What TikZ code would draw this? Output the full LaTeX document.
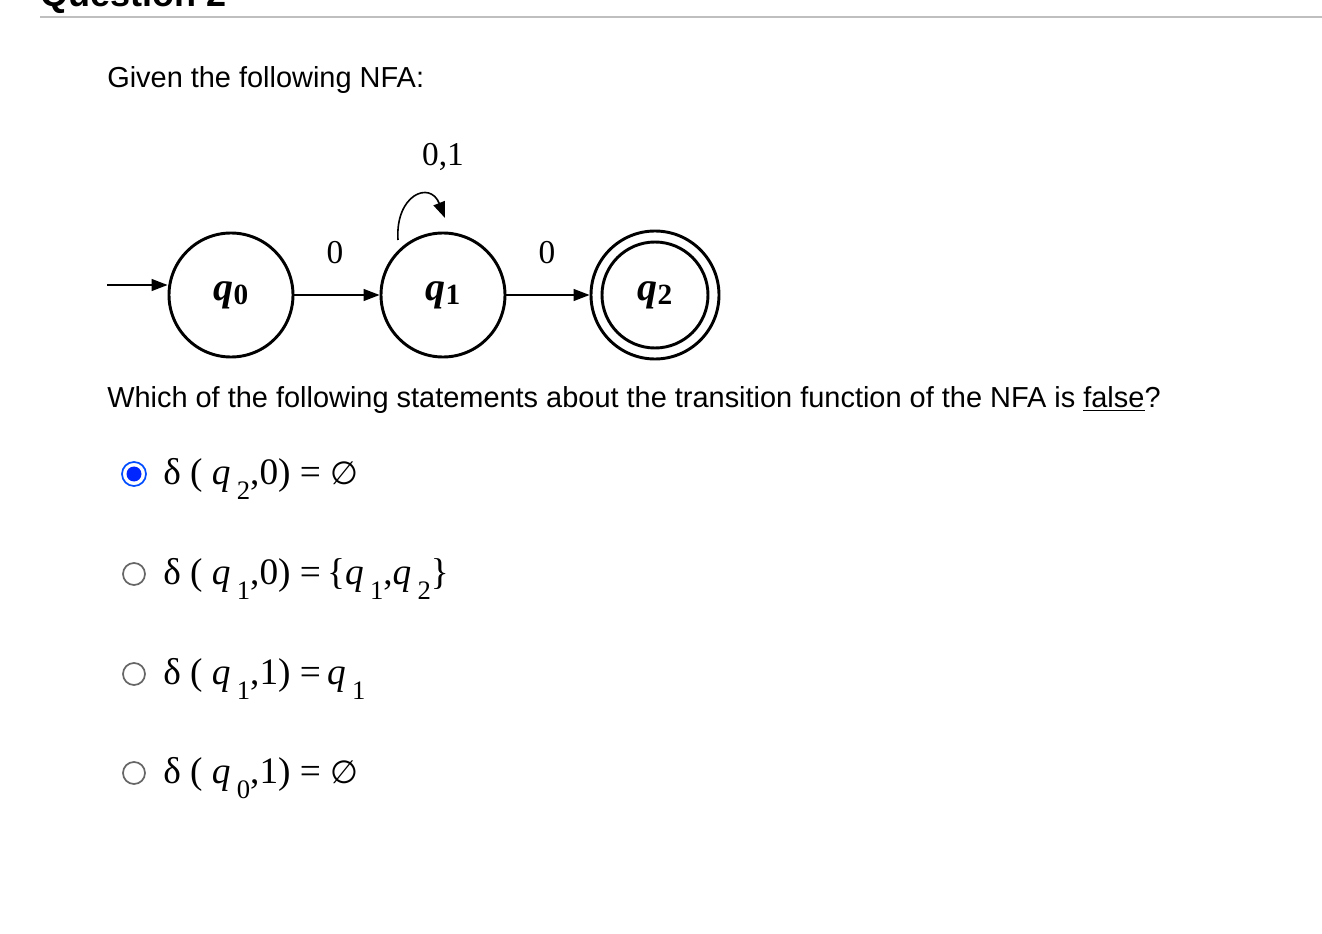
\documentclass[tikz,border=0pt]{standalone}
\usepackage{fontspec}
\setmainfont{Liberation Sans}
\newfontfamily\serf{Liberation Serif}
\newfontfamily\djv{DejaVu Sans}
\usetikzlibrary{arrows.meta}
\newcommand{\mysub}[1]{\raisebox{-0.42em}{\fontsize{20}{20}\selectfont #1}}
\newcommand{\emptyst}{{\djv\fontsize{24}{24}\selectfont ∅}}
\begin{document}
\begin{tikzpicture}[x=0.75pt,y=-0.75pt,
  st/.style={circle,draw,line width=2.2pt,minimum size=124*0.75pt,inner sep=0pt,font=\serf\bfseries\itshape\fontsize{30}{30}\selectfont},
  tr/.style={-{Triangle[length=12pt,width=9pt]},line width=1pt},
  lab/.style={font=\serf\fontsize{25}{25}\selectfont},
  txt/.style={anchor=base west,inner sep=0pt,font=\fontsize{21.7}{22}\selectfont},
  frm/.style={anchor=base west,inner sep=0pt,font=\serf\fontsize{28}{28}\selectfont},
  radio/.style={circle,draw=gray!80!black,line width=1.3pt,minimum size=22*0.75pt,inner sep=0pt}]
\useasboundingbox (0,0) rectangle (1322,934);
\begin{scope}
\clip (0,0) rectangle (1322,934);
\node[anchor=base west,inner sep=0pt,font=\bfseries\fontsize{27}{27}\selectfont] (title) at (40,7) {Question 2};
\end{scope}
\draw[gray!50,line width=1.5pt] (40,17) coordinate (la) -- (1322,17) coordinate (lb);
\node[txt] (given) at (107,88) {Given the following NFA:};
\node[st] (q0) at (231,295) {q\raisebox{-0.12em}{\upshape\fontsize{22}{22}\selectfont 0}};
\node[st] (q1) at (443,295) {q\raisebox{-0.12em}{\upshape\fontsize{22}{22}\selectfont 1}};
\node[st,minimum size=128*0.75pt] (q2) at (655,295) {};
\node[circle,draw,line width=2.2pt,minimum size=106*0.75pt,inner sep=0pt,font=\serf\bfseries\itshape\fontsize{30}{30}\selectfont] (q2i) at (655,295) {q\raisebox{-0.12em}{\upshape\fontsize{22}{22}\selectfont 2}};
\coordinate (s) at (107,285);
\draw[tr] (s) -- (s -| q0.west);
\draw[tr] (q0.east) -- (q1.west);
\draw[tr] (q1.east) -- (q2.west);
\node[lab] (l0) at (335,253) {0};
\node[lab] (l1) at (547,253) {0};
\node[lab] (l01) at (443,157) {0,1};
\coordinate (la1) at (398,240);
\coordinate (la2) at (445,218);
\draw[tr,line width=1.2pt] (la1) .. controls (395,195) and (430,180) .. (la2);
\node[txt] (q) at (107,408) {Which of the following statements about the transition function of the NFA is \underline{false}?};
\node[circle,draw=blue!70!cyan,line width=1.3pt,minimum size=24*0.75pt,inner sep=0pt] (r1) at (134,474) {};
\node[circle,fill=blue!85!cyan,minimum size=15*0.75pt,inner sep=0pt] (r1f) at (134,474) {};
\node[radio] (r2) at (134,574) {};
\node[radio] (r3) at (134,674) {};
\node[radio] (r4) at (134,773) {};
\node[frm] (f1) at (163,484) {δ ( \textit{q}\,\mysub{2},0) = \emptyst};
\node[frm] (f2) at (163,584) {δ ( \textit{q}\,\mysub{1},0) =\,\{\textit{q}\,\mysub{1},\textit{q}\,\mysub{2}\}};
\node[frm] (f3) at (163,684) {δ ( \textit{q}\,\mysub{1},1) =\,\textit{q}\,\mysub{1}};
\node[frm] (f4) at (163,783) {δ ( \textit{q}\,\mysub{0},1) = \emptyst};
\end{tikzpicture}
\end{document}
